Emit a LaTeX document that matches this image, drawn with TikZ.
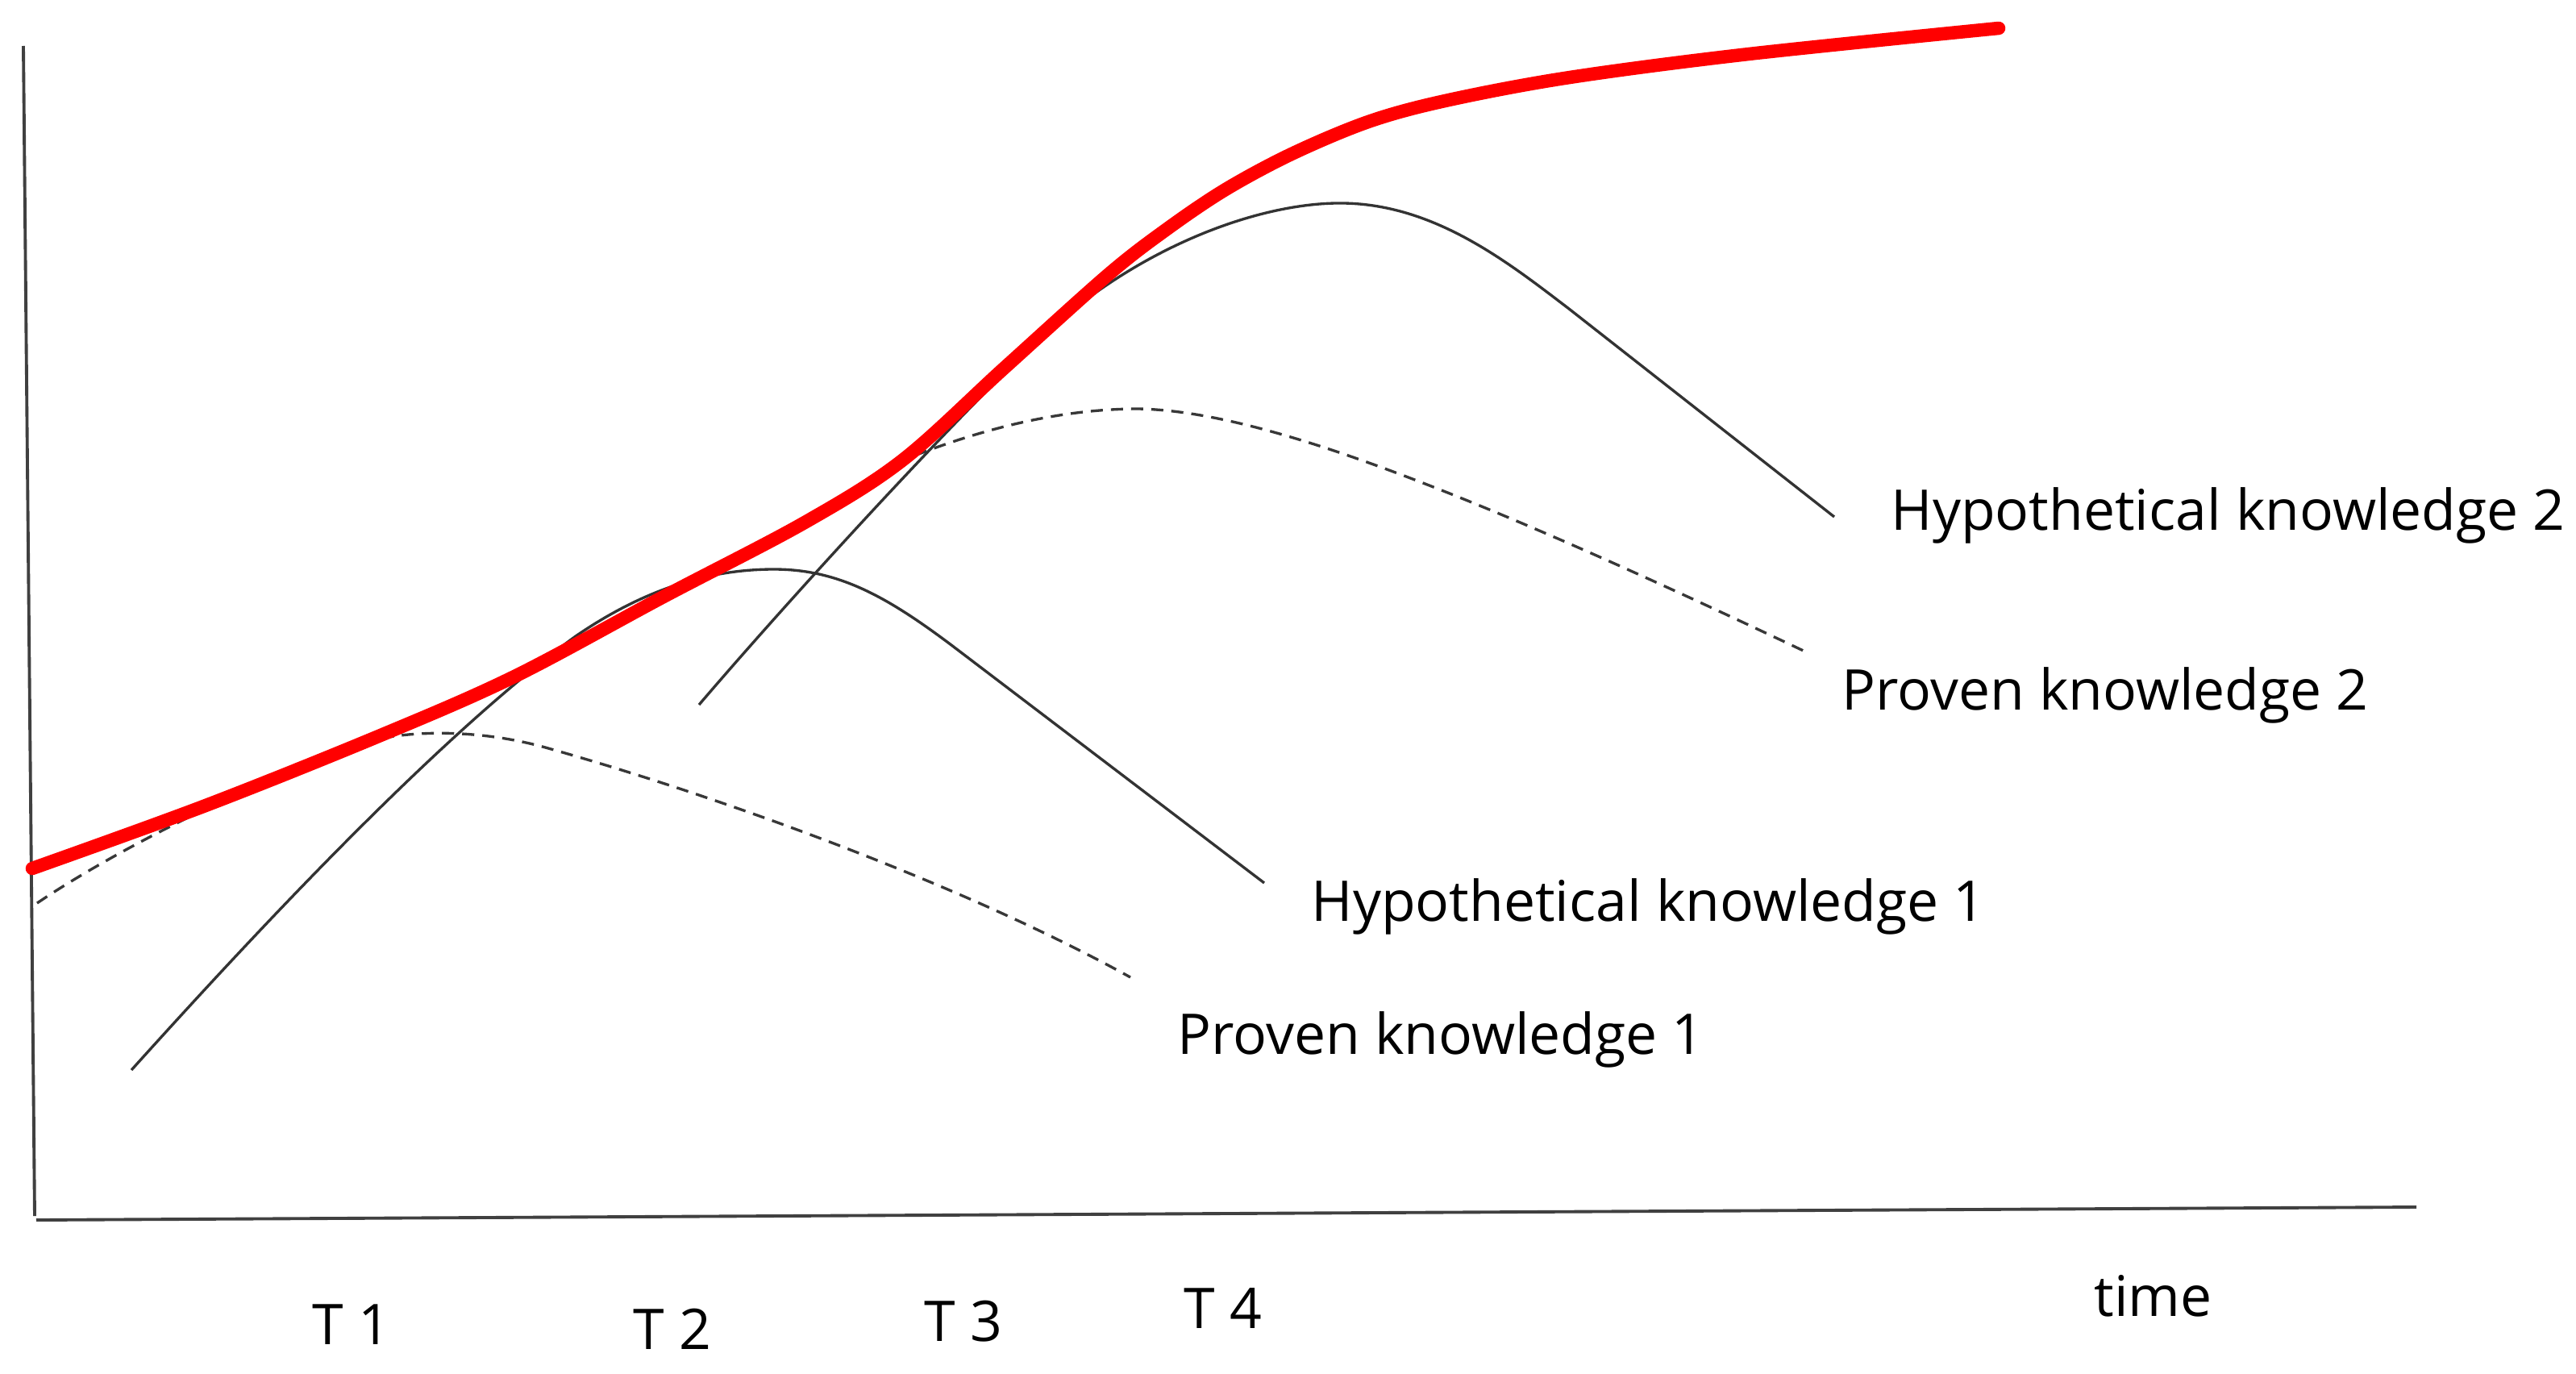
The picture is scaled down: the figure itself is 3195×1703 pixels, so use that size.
\documentclass[tikz,border=0pt]{standalone}
\usepackage{fontspec}
\setmainfont{Open Sans}
\begin{document}
\begin{tikzpicture}[x=0.01cm,y=-0.01cm,
  axisline/.style={line width=1.1pt,color=black!75},
  hypcurve/.style={line width=0.95pt,color=black!80},
  provcurve/.style={line width=0.95pt,color=black!78,dash pattern=on 0.15cm off 0.1cm},
  envelope/.style={line width=4.7pt,color=red,line cap=round},
  lbl/.style={anchor=base west,inner sep=0pt,font=\fontsize{19.8pt}{24pt}\selectfont}]
\useasboundingbox (0,0) rectangle (3195,1703);
% axes
\coordinate (ytop) at (29,57);
\coordinate (origin) at (43,1508);
\coordinate (xstart) at (45,1513);
\coordinate (xend) at (2997,1497);
\draw[axisline] (ytop) -- (origin);
\draw[axisline] (xstart) -- (xend);
% proven knowledge 1
\draw[provcurve] (46,1120) .. controls (150,1050) and (330,960) .. (472,916)
  .. controls (520,906) and (600,905) .. (680,928)
  .. controls (900,990) and (1200,1100) .. (1402,1212);
% hypothetical knowledge 1
\draw[hypcurve] (163,1327) .. controls (300,1175) and (540,915) .. (714,789)
  .. controls (800,730) and (880,706) .. (960,706)
  .. controls (1040,706) and (1100,740) .. (1180,800) -- (1568,1095);
% proven knowledge 2
\draw[provcurve] (1112,574) .. controls (1230,525) and (1330,507) .. (1412,507)
  .. controls (1560,510) and (1800,600) .. (2243,810);
% hypothetical knowledge 2
\draw[hypcurve] (867,874) .. controls (960,765) and (1150,555) .. (1278,431)
  .. controls (1400,310) and (1560,250) .. (1667,252)
  .. controls (1780,254) and (1870,325) .. (1946,383) -- (2275,641);
% envelope
\draw[envelope] plot[smooth,tension=0.55] coordinates {(40,1077) (255,999) (472,912) (638,839) (823,740) (998,648) (1119,571) (1246,456) (1374,341) (1446,285) (1520,235) (1604,190) (1700,150) (1797,124) (1947,96) (2169,67) (2479,35)};
% labels
\node[lbl] (h2) at (2345,657) {Hypothetical knowledge 2};
\node[lbl] (p2) at (2284,880) {Proven knowledge 2};
\node[lbl] (h1) at (1626,1142) {Hypothetical knowledge 1};
\node[lbl] (p1) at (1460,1307) {Proven knowledge 1};
\node[lbl] (t1) at (387,1667) {T 1};
\node[lbl] (t2) at (785,1673) {T 2};
\node[lbl] (t3) at (1146,1663) {T 3};
\node[lbl] (t4) at (1468,1647) {T 4};
\node[lbl] (time) at (2597,1632) {time};
\end{tikzpicture}
\end{document}
